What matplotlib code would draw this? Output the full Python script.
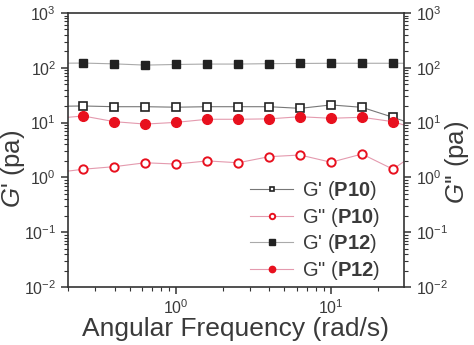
import numpy as np
import matplotlib.pyplot as plt

plt.rcParams['font.family'] = ['Liberation Sans', 'DejaVu Sans']
plt.rcParams['mathtext.fontset'] = 'custom'
plt.rcParams['mathtext.it'] = 'Liberation Sans:italic'
plt.rcParams['mathtext.rm'] = 'Liberation Sans'
plt.rcParams['mathtext.bf'] = 'Liberation Sans:bold'

# angular frequency (rad/s)
freq = [0.158, 0.251, 0.398, 0.631, 1.0, 1.585, 2.512, 3.981, 6.31, 10.0, 15.85, 25.12, 39.81]

# moduli (Pa)
g1_p10 = [19.8, 20.1, 19.5, 19.5, 19.1, 19.5, 19.5, 19.5, 18.2, 21.0, 19.0, 12.5, 8.0]
g2_p10 = [1.2, 1.41, 1.57, 1.85, 1.75, 2.0, 1.85, 2.39, 2.56, 1.89, 2.67, 1.41, 3.5]
g1_p12 = [121, 122, 118, 112, 115, 117, 117, 119, 120, 121, 121, 121, 121]
g2_p12 = [11.8, 13.2, 10.4, 9.4, 10.1, 11.5, 11.5, 11.7, 12.8, 12.0, 12.5, 10.4, 7.0]

txt = '#3a3a3a'
fig = plt.figure(figsize=(4.74, 3.45), dpi=100)
ax = fig.add_axes([68 / 474, 1 - 287 / 345, 336 / 474, 274 / 345])

ax.plot(freq, g1_p10, '-', color='#777777', lw=0.8, marker='s', ms=5.5,
        mfc='white', mec='#222222', mew=1.2, label="G' ($\\mathbf{P10}$)")
ax.plot(freq, g2_p10, '-', color='#e49aae', lw=0.8, marker='o', ms=6,
        mfc='white', mec='#e8101e', mew=1.4, label='G" ($\\mathbf{P10}$)')
ax.plot(freq, g1_p12, '-', color='#aaaaaa', lw=0.8, marker='s', ms=6,
        mfc='#222222', mec='#222222', label="G' ($\\mathbf{P12}$)")
ax.plot(freq, g2_p12, '-', color='#e49aae', lw=0.8, marker='o', ms=7,
        mfc='#e8101e', mec='#e8101e', label='G" ($\\mathbf{P12}$)')

ax.set_xscale('log')
ax.set_yscale('log')
ax.set_xlim(0.2, 29.6)
ax.set_ylim(1e-2, 1e3)

for s in ax.spines.values():
    s.set_color('#333333')
    s.set_linewidth(1.2)

ax.tick_params(which='both', direction='out', colors='#333333', labelcolor=txt,
               labelsize=11.5, top=False, right=False)
ax.tick_params(which='major', length=5, width=1.1)
ax.tick_params(which='minor', length=3, width=0.8)
ax.tick_params(axis='x', which='major', pad=3)
ax.set_xlabel('Angular Frequency (rad/s)', fontsize=19, color=txt)
ax.xaxis.set_label_coords(0.5, -0.11)
ax.set_ylabel("$G$' (pa)", fontsize=18.5, color=txt)
ax.yaxis.set_label_coords(-0.122, 0.43)

ax2 = ax.twinx()
ax2.set_yscale('log')
ax2.set_ylim(1e-2, 1e3)
ax2.tick_params(which='both', direction='out', colors='#333333', labelcolor=txt,
                labelsize=11.5)
ax2.tick_params(which='major', length=5, width=1.1)
ax2.tick_params(which='minor', length=3, width=0.8)
ax2.set_ylabel("$G$'' (pa)", fontsize=18.5, color=txt, rotation=90)
ax2.yaxis.set_label_coords(1.117, 0.455)
for s in ax2.spines.values():
    s.set_visible(False)

leg = ax.legend(loc='upper left', bbox_to_anchor=(250 / 474, 1 - 179 / 345),
                bbox_transform=fig.transFigure, frameon=False, fontsize=14.5,
                handlelength=2.15, handletextpad=0.45, labelspacing=0.18,
                borderpad=0, borderaxespad=0, markerscale=0.65)
for t in leg.get_texts():
    t.set_color(txt)

fig.savefig('out.png', dpi=100)
